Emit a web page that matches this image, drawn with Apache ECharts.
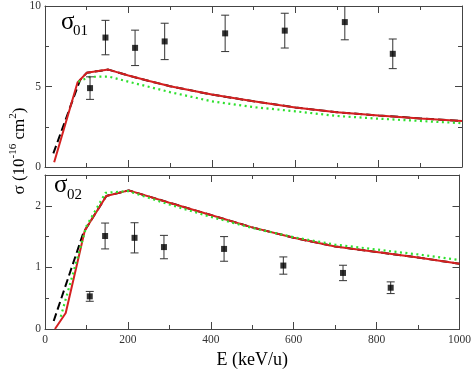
<!DOCTYPE html>
<html><head><meta charset="utf-8">
<script src="https://cdn.jsdelivr.net/npm/echarts@6/dist/echarts.min.js"></script>
<style>html,body{margin:0;padding:0;background:#fff}#c{width:474px;height:370px}</style>
</head><body><div id="c"></div>
<script>
// ---- data (E in keV/u, sigma in 1e-16 cm^2) ----
const expEnergy = [108, 145, 216, 287, 432, 575, 719, 834];
const expSigma01 = [4.9, 8.04, 7.4, 7.8, 8.3, 8.47, 9.0, 7.03];
const expErr01 = [0.7, 1.07, 1.1, 1.13, 1.13, 1.08, 1.1, 0.92];
const expSigma02 = [0.53, 1.51, 1.48, 1.33, 1.30, 1.03, 0.91, 0.67];
const expErr02 = [0.08, 0.21, 0.245, 0.19, 0.2, 0.14, 0.125, 0.095];

const red01 = [[22,0.3],[78,5.25],[100,5.85],[152,6.05],[200,5.68],[250,5.34],[300,5.02],[400,4.5],[500,4.08],[600,3.7],[700,3.4],[800,3.2],[900,3.02],[1000,2.86]];
const black01 = [[20,0.85],[84,5.4],[100,5.85],[152,6.05],[200,5.68],[250,5.34],[300,5.02],[400,4.5],[500,4.08],[600,3.7],[700,3.4],[800,3.2],[900,3.02],[1000,2.86]];
const green01 = [[80,5.3],[108,5.6],[152,5.62],[200,5.3],[300,4.65],[400,4.08],[500,3.72],[600,3.46],[700,3.17],[800,3.0],[900,2.86],[1000,2.72]];

const red02 = [[24,0],[50,0.26],[96,1.6],[148,2.16],[202,2.25],[300,2.05],[400,1.85],[500,1.65],[600,1.48],[700,1.34],[800,1.25],[900,1.16],[1000,1.06]];
const black02 = [[21,0.13],[92,1.55],[96,1.6],[148,2.16],[202,2.25],[300,2.05],[400,1.85],[500,1.65],[600,1.48],[700,1.34],[800,1.25],[900,1.16],[1000,1.06]];
const green02 = [[38,0.2],[100,1.67],[146,2.21],[200,2.24],[300,2.02],[400,1.82],[500,1.64],[600,1.49],[700,1.37],[800,1.29],[900,1.21],[1000,1.12]];

const xTicksMax = 1000, xInterval = 200;

// ---- chart ----
const chart = echarts.init(document.getElementById('c'), null, {renderer: 'canvas'});
const FONT = '"Liberation Serif", "Times New Roman", serif';
const AXC = '#444';

function xAxisDef(grid, pos, labels) {
  return {
    type: 'value', gridIndex: grid, position: pos, min: 0, max: xTicksMax, interval: xInterval,
    axisLine: {show: true, onZero: false, lineStyle: {color: AXC, width: 1}},
    axisTick: {show: true, inside: true, length: 7, lineStyle: {color: AXC}},
    minorTick: {show: true, splitNumber: 2, length: 4, lineStyle: {color: AXC}},
    splitLine: {show: false},
    axisLabel: {show: labels, margin: 5, fontFamily: FONT, fontSize: 11.5, color: '#333', formatter: v => String(v)},
    name: labels ? 'E (keV/u)' : '', nameLocation: 'middle', nameGap: 22,
    nameTextStyle: {fontFamily: FONT, fontSize: 18, color: '#000'}
  };
}
function yAxisDef(grid, pos, max, interval, opts) {
  opts = opts || {};
  return {
    type: 'value', gridIndex: grid, position: pos, min: 0, max: max, interval: interval,
    axisLine: {show: opts.line !== false, onZero: false, lineStyle: {color: AXC, width: 1}},
    axisTick: {show: true, inside: true, length: opts.tick || 7, lineStyle: {color: AXC}},
    minorTick: {show: !!opts.minor, splitNumber: 2, length: 4, lineStyle: {color: AXC}},
    splitLine: {show: false},
    axisLabel: {show: !!opts.labels, margin: 4, fontFamily: FONT, fontSize: 11.5, color: '#333', showMaxLabel: opts.showMax !== false, formatter: v => String(v)}
  };
}

function errRender(params, api) {
  const x = api.value(0), lo = api.value(1), hi = api.value(2);
  const p1 = api.coord([x, hi]), p2 = api.coord([x, lo]);
  const w = 4;
  const st = {stroke: '#333', lineWidth: 1};
  return {type: 'group', children: [
    {type: 'line', shape: {x1: p1[0], y1: p1[1], x2: p2[0], y2: p2[1]}, style: st},
    {type: 'line', shape: {x1: p1[0]-w, y1: p1[1], x2: p1[0]+w, y2: p1[1]}, style: st},
    {type: 'line', shape: {x1: p2[0]-w, y1: p2[1], x2: p2[0]+w, y2: p2[1]}, style: st}
  ]};
}

function lineSeries(data, xi, yi, color, type, width, z) {
  return {type: 'line', xAxisIndex: xi, yAxisIndex: yi, data: data, showSymbol: false, symbol: 'none',
    lineStyle: {color: color, width: width, type: type}, z: z, silent: true, animation: false};
}

const err01 = expEnergy.map((e, i) => [e, expSigma01[i] - expErr01[i], expSigma01[i] + expErr01[i]]);
const err02 = expEnergy.map((e, i) => [e, expSigma02[i] - expErr02[i], expSigma02[i] + expErr02[i]]);
const pts01 = expEnergy.map((e, i) => [e, expSigma01[i]]);
const pts02 = expEnergy.map((e, i) => [e, expSigma02[i]]);

const option = {
  animation: false,
  backgroundColor: '#fff',
  grid: [
    {left: 45, right: 12, top: 5, height: 162, show: false},
    {left: 45, right: 12, top: 175, height: 162, show: false}
  ],
  xAxis: [
    xAxisDef(0, 'bottom', false), xAxisDef(0, 'top', false),
    xAxisDef(1, 'bottom', true), xAxisDef(1, 'top', false)
  ],
  yAxis: [
    yAxisDef(0, 'left', 10, 5, {labels: true, minor: true}),
    yAxisDef(0, 'right', 10, 5, {minor: true}),
    yAxisDef(1, 'left', 2.5, 1, {labels: true, showMax: false}),
    yAxisDef(1, 'left', 2.5, 0.5, {line: false, tick: 4}),
    yAxisDef(1, 'right', 2.5, 1, {}),
    yAxisDef(1, 'right', 2.5, 0.5, {line: false, tick: 4})
  ],
  graphic: [
    {type: 'text', x: 18, y: 151, rotation: Math.PI / 2,
      style: {x: 0, y: 0, align: 'center', verticalAlign: 'middle',
        text: '{a|σ (10}{s|-16}{a| cm}{s|2}{a|)}',
        rich: {
          a: {fontFamily: FONT, fontSize: 17, lineHeight: 20, verticalAlign: 'bottom', fill: '#000'},
          s: {fontFamily: FONT, fontSize: 11, lineHeight: 12, padding: [0, 0, 16, 0], verticalAlign: 'top', fill: '#000'}
        }}},
    {type: 'text', x: 61, y: 10, style: {text: 'σ', fontFamily: FONT, fontSize: 25, fill: '#000', align: 'left', verticalAlign: 'top'}},
    {type: 'text', x: 73, y: 24, style: {text: '01', fontFamily: FONT, fontSize: 15, fill: '#000', align: 'left', verticalAlign: 'top'}},
    {type: 'text', x: 54, y: 173, style: {text: 'σ', fontFamily: FONT, fontSize: 25, fill: '#000', align: 'left', verticalAlign: 'top'}},
    {type: 'text', x: 67, y: 188, style: {text: '02', fontFamily: FONT, fontSize: 15, fill: '#000', align: 'left', verticalAlign: 'top'}}
  ],
  series: [
    lineSeries(black01, 0, 0, '#000', [8, 4], 2, 2),
    lineSeries(red01, 0, 0, '#d42020', 'solid', 2, 3),
    lineSeries(green01, 0, 0, '#2ee02e', [2, 3.5], 2.2, 4),
    {type: 'custom', xAxisIndex: 0, yAxisIndex: 0, renderItem: errRender, data: err01, encode: {x: 0, y: [1, 2]}, clip: true, z: 5},
    {type: 'scatter', xAxisIndex: 0, yAxisIndex: 0, data: pts01, symbol: 'rect', symbolSize: 6, itemStyle: {color: '#000'}, z: 6},

    lineSeries(black02, 2, 2, '#000', [8, 4], 2, 2),
    lineSeries(red02, 2, 2, '#d42020', 'solid', 2, 3),
    lineSeries(green02, 2, 2, '#2ee02e', [2, 3.5], 2.2, 4),
    {type: 'custom', xAxisIndex: 2, yAxisIndex: 2, renderItem: errRender, data: err02, encode: {x: 0, y: [1, 2]}, clip: true, z: 5},
    {type: 'scatter', xAxisIndex: 2, yAxisIndex: 2, data: pts02, symbol: 'rect', symbolSize: 6, itemStyle: {color: '#000'}, z: 6}
  ]
};
chart.setOption(option);
</script>
</body></html>
